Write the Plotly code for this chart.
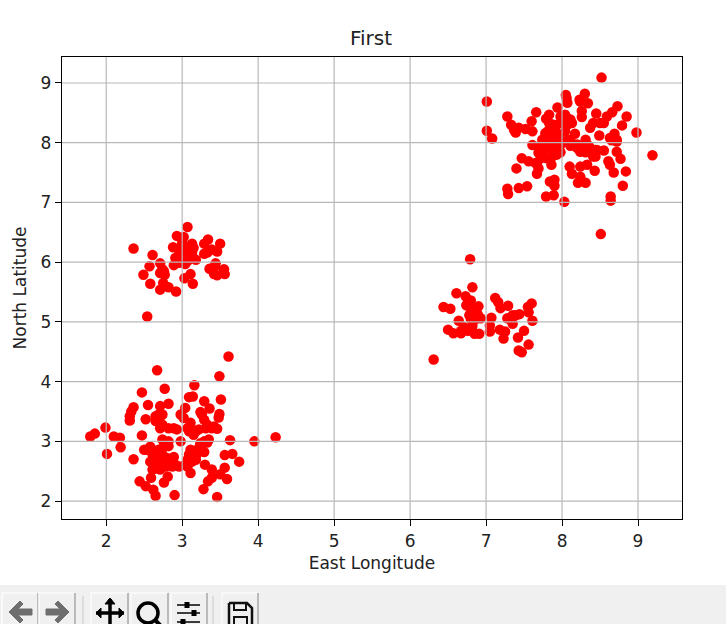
# First: four point clusters, matplotlib look with Tk toolbar strip at the bottom
import plotly.graph_objs as go

# cluster values
north_east_x = [8.52,7.01,7.01,7.08,7.28,7.33,7.37,7.39,7.43,7.52,7.60,7.61,7.66,7.61,7.47,7.56,7.40,7.67,7.69,7.28,7.29,7.43,7.54,7.79,7.89,7.84,7.90,7.90,8.03,8.51,
                7.79,7.83,7.94,8.05,8.07,8.23,8.30,8.34,8.26,8.26,8.45,8.66,8.59,8.73,8.85,8.79,8.98,9.19,8.69,8.49,8.37,8.41,8.55,8.72,8.65,8.72,8.77,8.61,8.63,8.68,
                8.84,8.80,8.64,8.64,8.43,8.44,8.55,8.33,8.24,8.10,8.13,8.24,8.21,8.31,7.86,7.93,7.98,7.76,7.72,7.80,7.89,7.81,7.91,7.85,7.98,8.07,8.13,8.17,8.04,8.09,
                8.20,8.31,8.35,8.24,8.46,8.11,7.69,7.78,7.98,7.74,7.83,8.31,7.67,
                7.83,7.78,7.87,7.96,7.76,7.93,7.85,7.76,7.69,7.65,7.80,7.87,8.04,8.13,8.20,8.26,8.37,8.44,8.04,8.11,8.07,7.98,8.50,8.31,8.41,8.72,8.63,8.24,8.06,7.89]
north_east_y = [9.09,8.69,8.20,8.07,8.44,8.30,8.21,8.17,8.25,8.23,8.36,8.19,8.51,7.96,7.74,7.69,7.57,7.48,7.57,7.23,7.14,7.24,7.27,7.10,7.12,7.35,7.38,7.28,7.01,6.47,
                8.40,8.47,8.59,8.80,8.67,8.72,8.82,8.66,8.53,8.43,8.49,8.51,8.44,8.61,8.44,8.29,8.17,7.79,8.15,8.12,8.25,8.33,8.33,8.02,8.04,7.85,7.73,7.69,7.63,7.50,
                7.52,7.28,7.10,7.03,7.53,7.77,7.87,7.63,7.60,7.60,7.48,7.43,7.33,7.33,7.63,7.80,7.84,7.88,7.74,7.99,8.05,8.19,8.25,8.27,8.33,8.41,8.33,8.15,8.19,8.05,
                7.91,8.05,7.95,7.85,7.88,7.95,7.83,7.94,7.97,8.05,8.08,7.84,7.66,
                8.33,8.16,8.13,8.13,8.02,7.94,7.91,7.77,7.91,7.66,7.74,7.77,8.02,7.99,7.97,7.93,7.91,7.88,8.47,8.39,8.30,8.44,8.33,7.88,7.77,8.05,8.08,8.69,8.75,8.30]
south_west_x = [3.61,2.67,3.49,3.16,2.47,2.77,3.14,3.09,3.29,3.51,2.55,2.82,2.71,2.36,2.33,2.31,2.31,2.52,2.69,2.74,2.65,3.04,3.02,3.11,3.24,3.36,3.29,3.49,3.48,3.39,
                3.46,3.31,3.18,3.09,2.71,2.82,2.93,2.71,1.99,1.85,1.79,2.10,2.18,2.19,2.01,2.36,2.47,3.63,3.95,4.23,2.98,2.74,2.82,2.50,2.58,2.69,3.29,3.33,3.15,3.09,
                3.29,3.56,3.66,3.75,3.56,3.30,3.39,3.50,3.59,3.39,3.34,3.28,3.46,2.90,2.65,2.62,2.52,2.44,2.59,2.61,2.58,2.76,2.81,2.71,2.82,2.89,2.96,2.87,2.69,2.76,
                2.65,3.07,3.11,3.18,3.13,2.71,
                2.65,2.74,2.80,2.85,2.78,2.67,2.91,2.61,3.11,3.20,3.13,3.07,3.22,3.18,3.04,2.67,2.74,2.65,3.13,3.22,3.15,3.07,3.24,3.35,2.82,2.76,2.54,2.89,3.42,3.33,3.26,2.98]
south_west_y = [4.42,4.19,4.09,3.94,3.82,3.88,3.75,3.74,3.67,3.70,3.61,3.63,3.59,3.57,3.50,3.42,3.35,3.37,3.45,3.45,3.34,3.56,3.39,3.31,3.49,3.55,3.36,3.46,3.40,3.22,
                3.21,3.22,3.17,3.17,3.22,3.22,3.20,3.31,3.23,3.13,3.08,3.08,3.06,2.90,2.79,2.70,3.10,3.02,3.00,3.07,3.00,3.03,2.92,2.86,2.91,2.86,3.00,2.98,2.83,2.78,
                2.82,2.77,2.79,2.66,2.56,2.61,2.53,2.45,2.37,2.39,2.33,2.20,2.07,2.10,2.09,2.19,2.25,2.33,2.39,2.53,2.66,2.31,2.41,2.61,2.69,2.74,2.58,2.58,2.72,2.66,
                2.64,2.58,2.47,2.69,2.66,2.53,
                2.75,2.78,2.72,2.64,2.58,2.55,2.61,2.78,2.86,2.80,2.75,2.69,2.89,2.75,2.61,3.36,3.28,3.42,3.20,3.20,3.11,3.22,2.97,3.03,3.00,2.92,2.86,3.22,3.25,3.28,3.45,3.45]
north_west_x = [3.07,2.36,2.61,2.93,3.02,2.88,2.98,3.13,3.34,3.29,3.50,3.39,3.46,3.29,3.13,2.91,3.09,3.04,3.18,2.71,2.57,2.89,2.76,2.49,2.71,2.58,2.75,2.82,2.71,2.92,
                3.03,3.11,3.14,2.54,3.44,3.36,3.42,3.46,3.55,3.56,2.98,3.09,3.02,
                2.96,2.93,3.07,3.13,3.09,3.00,3.15,2.96,2.74,2.77,3.43,3.39,3.33]
north_west_y = [6.59,6.23,6.12,6.44,6.42,6.25,6.24,6.31,6.38,6.31,6.31,6.21,6.18,6.14,6.16,6.07,6.07,5.97,6.04,5.98,5.93,5.95,5.85,5.79,5.82,5.64,5.65,5.58,5.54,5.51,
                5.73,5.80,5.64,5.09,5.98,5.89,5.80,5.78,5.88,5.80,6.13,6.21,6.07,
                6.13,6.02,6.02,6.10,6.14,6.32,6.24,5.99,5.88,5.79,5.93,5.88,6.16]
south_east_x = [6.79,6.82,6.61,6.31,6.44,6.53,6.73,6.80,6.74,6.90,6.82,6.89,6.80,6.93,6.64,6.50,6.57,6.67,6.76,6.85,6.91,6.82,7.12,7.16,7.19,7.29,7.07,7.05,7.05,7.18,
                7.25,7.23,7.28,7.35,7.44,7.35,7.60,7.55,7.56,7.61,7.50,7.42,7.56,7.43,7.47,
                6.78,6.85,6.80,6.87,6.78,6.67,6.82,6.71,7.39,7.31]
south_east_y = [6.05,5.58,5.48,4.37,5.25,5.22,5.43,5.36,5.28,5.26,5.16,5.13,5.05,5.06,5.02,4.87,4.81,4.81,4.85,4.80,4.80,4.94,5.40,5.33,5.23,5.27,5.07,4.94,4.84,4.87,
                4.84,4.72,5.06,5.11,5.13,4.97,5.31,5.25,5.16,5.02,4.85,4.74,4.62,4.52,4.49,
                5.28,5.22,5.16,5.05,5.11,4.85,4.85,4.91,5.11,5.05]
x_ticks = [2, 3, 4, 5, 6, 7, 8, 9]
y_ticks = [2, 3, 4, 5, 6, 7, 8, 9]

WIDTH, HEIGHT = 726, 624
FONT = "DejaVu Sans"
INK = "#222222"
GRID = "#b8b8b8"

fig = go.Figure()
fig.add_trace(go.Scatter(x=north_east_x + south_west_x + north_west_x + south_east_x,
                         y=north_east_y + south_west_y + north_west_y + south_east_y,
                         mode="markers", marker=dict(color="#ff0000", size=10.5), showlegend=False))

# matplotlib draws the grid over the points here
for t in x_ticks:
    fig.add_vline(x=t, line=dict(color=GRID, width=1.2))
for t in y_ticks:
    fig.add_hline(y=t, line=dict(color=GRID, width=1.2))


# toolbar helpers: pixel position in the window -> paper coordinates
def px(x):
    return (x - 62) / (682 - 62)


def py(y):
    return (519 - y) / (519 - 57)


def box(x0, y0, x1, y1, fill, line=None):
    fig.add_shape(type="rect", xref="paper", yref="paper", x0=px(x0), x1=px(x1), y0=py(y0), y1=py(y1),
                  fillcolor=fill, line=dict(color=line or fill, width=1 if line else 0))


def path(points, fill=None, color="#000000", width=3):
    d = "M " + " L ".join(f"{px(a):.5f},{py(b):.5f}" for a, b in points)
    if fill:
        d += " Z"
    fig.add_shape(type="path", xref="paper", yref="paper", path=d, fillcolor=fill,
                  line=dict(color=color, width=width if width else 0))


# toolbar strip
box(0, 585, 726, 624, "#f0f0f0")
for left, right in [(2, 38), (39, 75), (91, 128), (131, 168), (171, 207), (222, 258)]:
    path([(left, 624), (left, 593), (right, 593)], color="#fbfbfb", width=1.5)
    path([(right, 593), (right, 624)], color="#a8a8a8", width=1.5)
for sep in [83, 213]:
    path([(sep, 596), (sep, 624)], color="#c8c8c8", width=1)

# back / forward arrows (disabled, so grey)
path([(9, 612), (20, 601), (23, 604), (18, 609), (32, 609), (32, 615), (18, 615), (23, 620), (20, 623)], fill="#6e6e6e", color="#6e6e6e", width=1)
path([(69, 612), (58, 601), (55, 604), (60, 609), (46, 609), (46, 615), (60, 615), (55, 620), (58, 623)], fill="#6e6e6e", color="#6e6e6e", width=1)
# pan
path([(96, 613), (124, 613)], width=3.5)
path([(110, 599), (110, 624)], width=3.5)
path([(110, 598), (105, 604), (115, 604)], fill="#000000", width=1)
path([(96, 613), (101, 608), (101, 618)], fill="#000000", width=1)
path([(124, 613), (119, 608), (119, 618)], fill="#000000", width=1)
# zoom
fig.add_shape(type="circle", xref="paper", yref="paper", x0=px(138), x1=px(158), y0=py(603), y1=py(623),
              line=dict(color="#000000", width=3.5))
path([(155, 620), (163, 628)], width=4)
# sliders
for y, knob in [(605, 187), (613, 194), (622, 183)]:
    path([(177, y), (200, y)], width=1.5)
    box(knob - 2.5, y - 3, knob + 2.5, y + 3, "#000000")
# save
path([(229, 603), (247, 603), (252, 608), (252, 626), (229, 626), (229, 603)], width=2.5, color="#111111")
path([(234, 603), (234, 610), (246, 610), (246, 603)], width=2, color="#111111")
path([(234, 626), (234, 617), (247, 617), (247, 626)], width=2, color="#111111")

fig.update_xaxes(range=[1.418, 9.579], tickvals=x_ticks, showgrid=False, zeroline=False, showline=True, mirror=True,
                 linecolor="#000000", linewidth=1.3, ticks="outside", ticklen=6, tickcolor="#000000", tickwidth=1.2,
                 title=dict(text="East Longitude", font=dict(family=FONT, size=17, color=INK), standoff=7))
fig.update_yaxes(range=[1.70, 9.435], tickvals=y_ticks, showgrid=False, zeroline=False, showline=True, mirror=True,
                 linecolor="#000000", linewidth=1.3, ticks="outside", ticklen=6, tickcolor="#000000", tickwidth=1.2,
                 title=dict(text="North Latitude", font=dict(family=FONT, size=17, color=INK), standoff=9))
fig.update_layout(title=dict(text="First", font=dict(family=FONT, size=20, color=INK), x=371 / WIDTH, xanchor="center",
                             y=1 - 38 / HEIGHT, yanchor="middle"),
                  font=dict(family=FONT, size=17, color=INK), width=WIDTH, height=HEIGHT,
                  margin=dict(l=62, r=WIDTH - 682, t=57, b=HEIGHT - 519), paper_bgcolor="#ffffff", plot_bgcolor="#ffffff",
                  showlegend=False)
fig.write_html("out.html", config=dict(displayModeBar=False), post_script="document.body.style.margin='0';")
